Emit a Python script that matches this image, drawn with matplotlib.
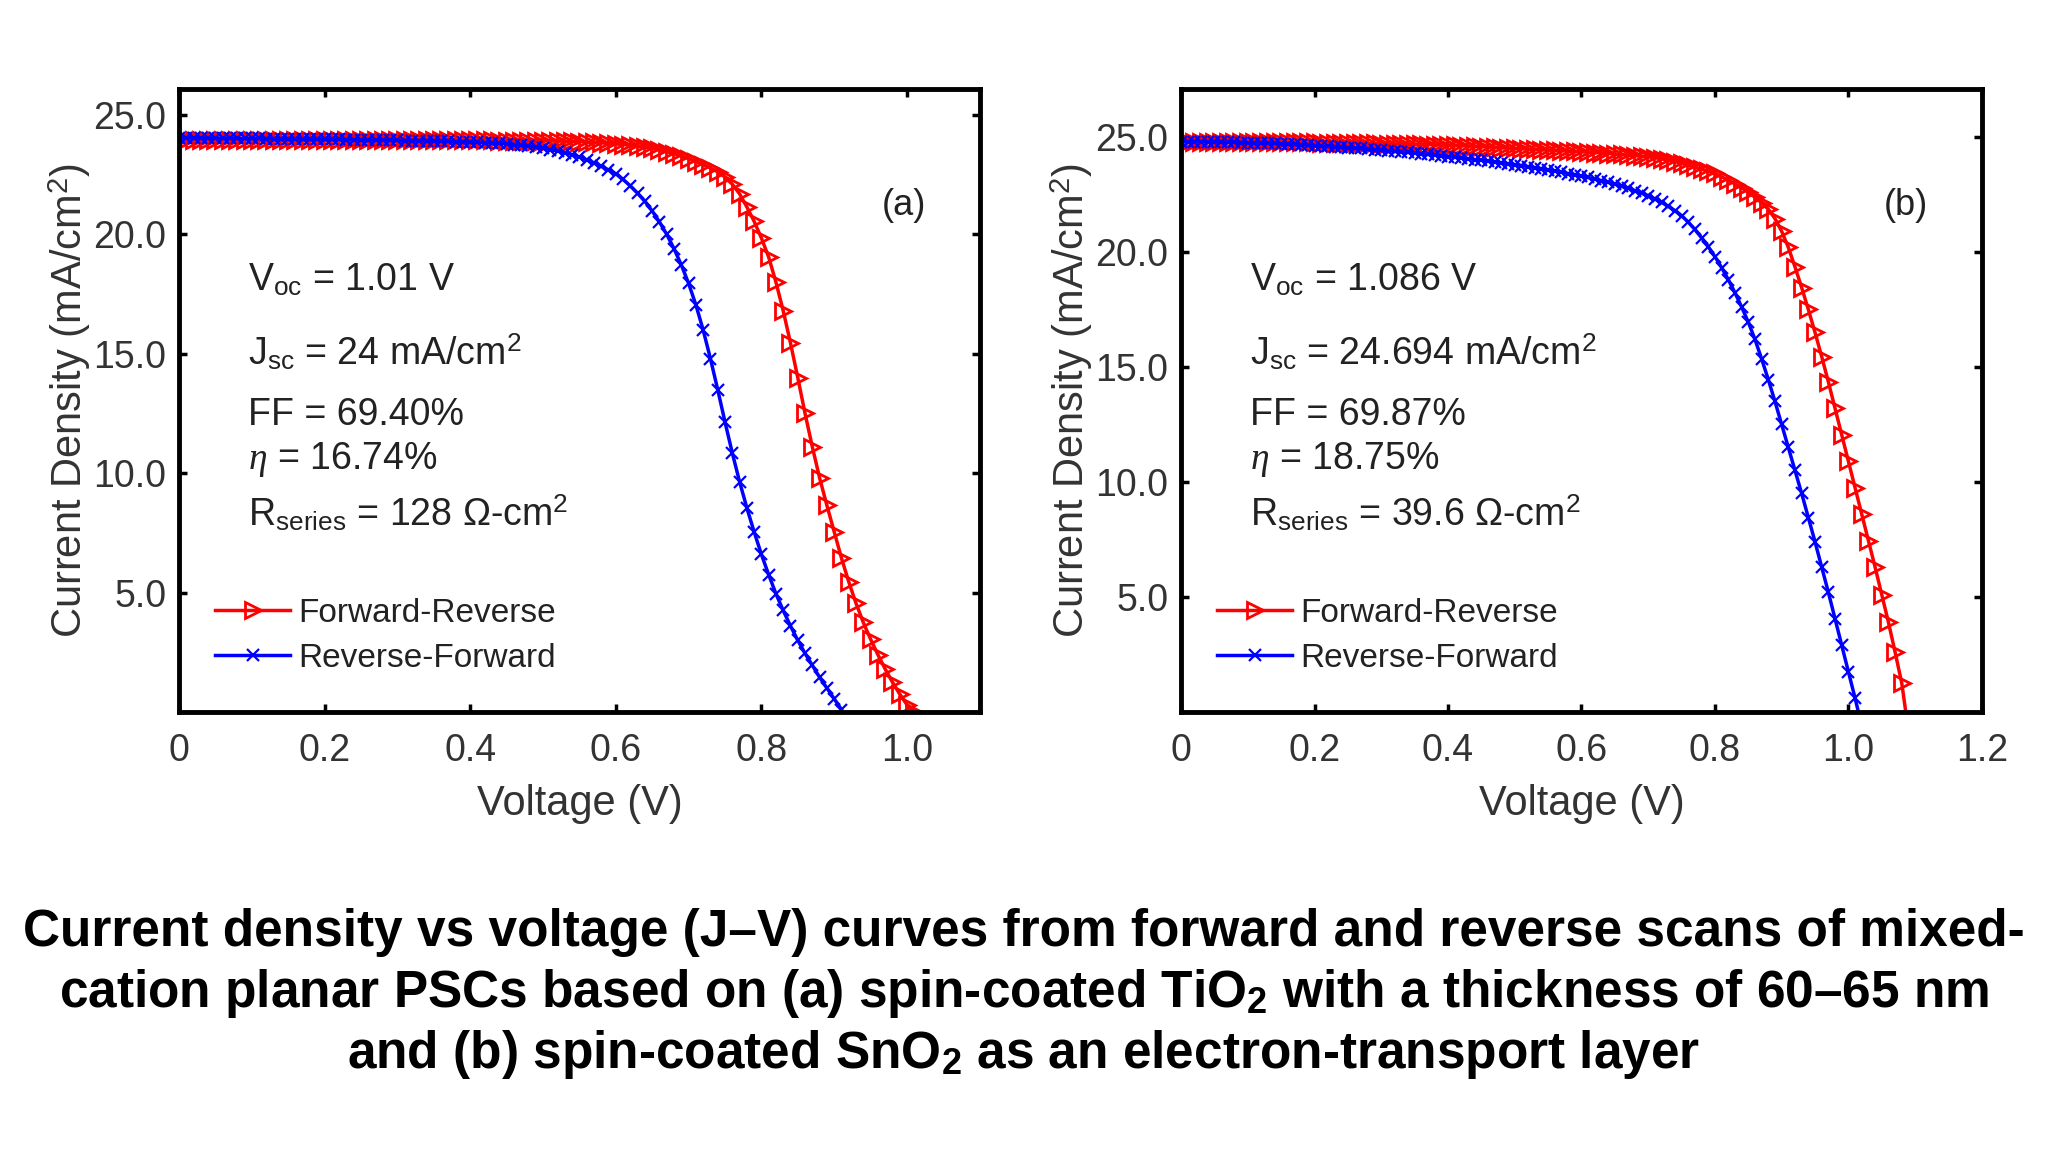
import matplotlib.pyplot as plt

plt.rcParams["font.family"] = ["Liberation Sans", "DejaVu Sans"]
plt.rcParams["mathtext.fontset"] = "custom"
plt.rcParams["mathtext.rm"] = "Liberation Sans"
plt.rcParams["mathtext.it"] = "Liberation Serif:italic"
plt.rcParams["mathtext.bf"] = "Liberation Sans:bold"

# voltage sweep (V), 10 mV steps
voltage = [
    0.00, 0.01, 0.02, 0.03, 0.04, 0.05, 0.06, 0.07, 0.08, 0.09,
    0.10, 0.11, 0.12, 0.13, 0.14, 0.15, 0.16, 0.17, 0.18, 0.19,
    0.20, 0.21, 0.22, 0.23, 0.24, 0.25, 0.26, 0.27, 0.28, 0.29,
    0.30, 0.31, 0.32, 0.33, 0.34, 0.35, 0.36, 0.37, 0.38, 0.39,
    0.40, 0.41, 0.42, 0.43, 0.44, 0.45, 0.46, 0.47, 0.48, 0.49,
    0.50, 0.51, 0.52, 0.53, 0.54, 0.55, 0.56, 0.57, 0.58, 0.59,
    0.60, 0.61, 0.62, 0.63, 0.64, 0.65, 0.66, 0.67, 0.68, 0.69,
    0.70, 0.71, 0.72, 0.73, 0.74, 0.75, 0.76, 0.77, 0.78, 0.79,
    0.80, 0.81, 0.82, 0.83, 0.84, 0.85, 0.86, 0.87, 0.88, 0.89,
    0.90, 0.91, 0.92, 0.93, 0.94, 0.95, 0.96, 0.97, 0.98, 0.99,
    1.00, 1.01, 1.02, 1.03, 1.04, 1.05, 1.06, 1.07, 1.08,
]

# (a) TiO2 device, current density (mA/cm2)
j_a_fwd = [
    23.97, 23.97, 23.97, 23.97, 23.97, 23.97, 23.97, 23.97, 23.97, 23.97,
    23.96, 23.96, 23.96, 23.96, 23.96, 23.96, 23.96, 23.96, 23.96, 23.96,
    23.96, 23.96, 23.95, 23.95, 23.95, 23.95, 23.95, 23.95, 23.95, 23.95,
    23.95, 23.95, 23.95, 23.95, 23.94, 23.94, 23.94, 23.94, 23.94, 23.94,
    23.94, 23.94, 23.94, 23.94, 23.93, 23.93, 23.93, 23.93, 23.93, 23.93,
    23.93, 23.92, 23.91, 23.90, 23.89, 23.88, 23.86, 23.85, 23.83, 23.81,
    23.79, 23.76, 23.73, 23.69, 23.65, 23.60, 23.53, 23.46, 23.38, 23.28,
    23.17, 23.05, 22.92, 22.78, 22.62, 22.40, 22.10, 21.70, 21.15, 20.55,
    19.85, 19.05, 18.00, 16.80, 15.45, 14.00, 12.50, 11.10, 9.80, 8.65,
    7.55, 6.45, 5.45, 4.55, 3.75, 3.05, 2.40, 1.80, 1.25, 0.75,
    0.30, 0.00,
]
j_a_rev = [
    24.05, 24.05, 24.05, 24.04, 24.04, 24.04, 24.03, 24.03, 24.03, 24.02,
    24.02, 24.02, 24.01, 24.01, 24.01, 24.00, 24.00, 24.00, 23.99, 23.99,
    23.99, 23.98, 23.98, 23.97, 23.97, 23.96, 23.96, 23.95, 23.95, 23.94,
    23.94, 23.93, 23.93, 23.92, 23.91, 23.91, 23.90, 23.89, 23.88, 23.87,
    23.86, 23.85, 23.84, 23.82, 23.81, 23.79, 23.76, 23.73, 23.70, 23.66,
    23.61, 23.55, 23.49, 23.42, 23.34, 23.24, 23.12, 22.99, 22.85, 22.70,
    22.54, 22.30, 22.03, 21.72, 21.38, 20.98, 20.52, 20.00, 19.40, 18.72,
    17.95, 17.05, 16.00, 14.80, 13.50, 12.15, 10.85, 9.65, 8.55, 7.55,
    6.60, 5.75, 4.95, 4.25, 3.60, 3.00, 2.45, 1.95, 1.45, 1.00,
    0.55, 0.10,
]

# (b) SnO2 device
j_b_fwd = [
    24.80, 24.80, 24.80, 24.80, 24.80, 24.79, 24.79, 24.79, 24.79, 24.79,
    24.78, 24.78, 24.78, 24.78, 24.78, 24.78, 24.77, 24.77, 24.77, 24.77,
    24.77, 24.76, 24.76, 24.75, 24.75, 24.74, 24.74, 24.73, 24.72, 24.72,
    24.71, 24.70, 24.70, 24.69, 24.69, 24.68, 24.68, 24.67, 24.66, 24.66,
    24.65, 24.64, 24.62, 24.61, 24.60, 24.58, 24.57, 24.55, 24.53, 24.52,
    24.50, 24.49, 24.47, 24.46, 24.44, 24.43, 24.42, 24.40, 24.39, 24.37,
    24.36, 24.34, 24.32, 24.30, 24.28, 24.26, 24.24, 24.21, 24.19, 24.16,
    24.14, 24.10, 24.05, 23.99, 23.93, 23.85, 23.77, 23.69, 23.60, 23.51,
    23.42, 23.27, 23.12, 22.96, 22.79, 22.60, 22.38, 22.14, 21.86, 21.45,
    20.90, 20.20, 19.35, 18.45, 17.50, 16.50, 15.45, 14.35, 13.20, 12.05,
    10.90, 9.75, 8.60, 7.45, 6.30, 5.10, 3.90, 2.60, 1.25,
]
j_b_rev = [
    24.80, 24.80, 24.79, 24.79, 24.79, 24.78, 24.78, 24.77, 24.77, 24.76,
    24.75, 24.74, 24.74, 24.73, 24.72, 24.70, 24.69, 24.68, 24.66, 24.65,
    24.63, 24.61, 24.60, 24.58, 24.56, 24.54, 24.52, 24.50, 24.47, 24.45,
    24.43, 24.40, 24.38, 24.35, 24.33, 24.30, 24.27, 24.24, 24.21, 24.18,
    24.15, 24.12, 24.09, 24.06, 24.02, 23.99, 23.95, 23.92, 23.88, 23.84,
    23.80, 23.76, 23.71, 23.67, 23.62, 23.57, 23.52, 23.47, 23.41, 23.36,
    23.30, 23.24, 23.17, 23.10, 23.03, 22.95, 22.86, 22.77, 22.67, 22.56,
    22.45, 22.31, 22.16, 21.99, 21.80, 21.58, 21.30, 20.98, 20.62, 20.23,
    19.80, 19.32, 18.80, 18.23, 17.61, 16.95, 16.20, 15.35, 14.45, 13.50,
    12.50, 11.50, 10.50, 9.50, 8.45, 7.40, 6.30, 5.20, 4.05, 2.90,
    1.75, 0.60,
]
voc_b_fwd = 1.086
voc_b_rev = 1.015

params_a = [
    "V$_{\\rm oc}$ = 1.01 V",
    "J$_{\\rm sc}$ = 24 mA/cm$^{2}$",
    "FF = 69.40%",
    "$\\eta$ = 16.74%",
    "R$_{\\rm series}$ = 128 \u03a9-cm$^{2}$",
]
params_b = [
    "V$_{\\rm oc}$ = 1.086 V",
    "J$_{\\rm sc}$ = 24.694 mA/cm$^{2}$",
    "FF = 69.87%",
    "$\\eta$ = 18.75%",
    "R$_{\\rm series}$ = 39.6 \u03a9-cm$^{2}$",
]
y_ticks = [5, 10, 15, 20, 25]
y_ticklabels = ["5.0", "10.0", "15.0", "20.0", "25.0"]
x_ticks_a = [0, 0.2, 0.4, 0.6, 0.8, 1.0]
x_ticklabels_a = ["0", "0.2", "0.4", "0.6", "0.8", "1.0"]
x_ticks_b = [0, 0.2, 0.4, 0.6, 0.8, 1.0, 1.2]
x_ticklabels_b = ["0", "0.2", "0.4", "0.6", "0.8", "1.0", "1.2"]

caption = [
    "Current density vs voltage (J\u2013V) curves from forward and reverse scans of mixed-",
    "cation planar PSCs based on (a) spin-coated TiO$_{\\mathbf{2}}$ with a thickness of 60\u201365 nm",
    "and (b) spin-coated SnO$_{\\mathbf{2}}$ as an electron-transport layer",
]

fig = plt.figure(figsize=(20.48, 11.52), dpi=100)
ax_a = fig.add_axes([0.0874, 0.382, 0.391, 0.541])
ax_b = fig.add_axes([0.5767, 0.382, 0.391, 0.541])


def draw_panel(ax, v_fwd, j_fwd, n_fwd, v_rev, j_rev, n_rev, params, tag,
               xlim, ylim, xt, xtl):
    ax.plot(v_fwd, j_fwd, color="red", lw=2.5, marker=">", ms=11, mew=2,
            mfc="none", markevery=list(range(n_fwd)),
            label="Forward-Reverse")
    ax.plot(v_rev, j_rev, color="blue", lw=2.5, marker="x", ms=8, mew=1.6,
            markevery=list(range(n_rev)), label="Reverse-Forward")
    ax.set_xlim(*xlim)
    ax.set_ylim(*ylim)
    ax.set_xticks(xt)
    ax.set_xticklabels(xtl)
    ax.set_yticks(y_ticks)
    ax.set_yticklabels(y_ticklabels)
    ax.tick_params(direction="in", top=True, right=True, length=6, width=2.5,
                   labelsize=27, colors="black", labelcolor="#333333")
    ax.tick_params(axis="x", pad=15)
    ax.tick_params(axis="y", pad=9)
    for s in ax.spines.values():
        s.set_linewidth(3.5)
    ax.set_xlabel("Voltage (V)", fontsize=30, color="#333333")
    ax.set_ylabel("Current Density (mA/cm$^2$)", fontsize=30, color="#333333")
    ax.xaxis.set_label_coords(0.5, -0.116)
    ax.yaxis.set_label_coords(-0.108, 0.5)

    ys = [0.692, 0.577, 0.476, 0.405, 0.319]
    for txt, y in zip(params, ys):
        ax.text(0.0865, y, txt, transform=ax.transAxes, fontsize=27,
                ha="left", va="center", color="#222222")
    ax.text(0.905, 0.813, tag, transform=ax.transAxes, fontsize=26,
            ha="center", va="center", color="#222222")
    leg = ax.legend(loc="center left", bbox_to_anchor=(0.045, 0.122),
                    frameon=False, fontsize=24, handlelength=2.25,
                    handletextpad=0.25, labelspacing=0.42, borderpad=0,
                    borderaxespad=0, numpoints=1)
    for t in leg.get_texts():
        t.set_color("#222222")


draw_panel(ax_a, voltage[:len(j_a_fwd)], j_a_fwd, len(j_a_fwd),
           voltage[:len(j_a_rev)], j_a_rev, len(j_a_rev), params_a, "(a)",
           (0, 1.1), (0, 26.1), x_ticks_a, x_ticklabels_a)

# panel (b): curves run on to the axis at Voc, no marker on that end point
draw_panel(ax_b, voltage[:len(j_b_fwd)] + [voc_b_fwd], j_b_fwd + [0.0],
           len(j_b_fwd), voltage[:len(j_b_rev)] + [voc_b_rev],
           j_b_rev + [0.0], len(j_b_rev), params_b, "(b)",
           (0, 1.2), (0, 27.1), x_ticks_b, x_ticklabels_b)

for line, y in zip(caption, [0.179, 0.126, 0.073]):
    fig.text(0.5, y, line, ha="center", va="baseline", fontsize=37,
             fontweight="bold", color="black")

fig.savefig("out.png", dpi=100, facecolor="white")
